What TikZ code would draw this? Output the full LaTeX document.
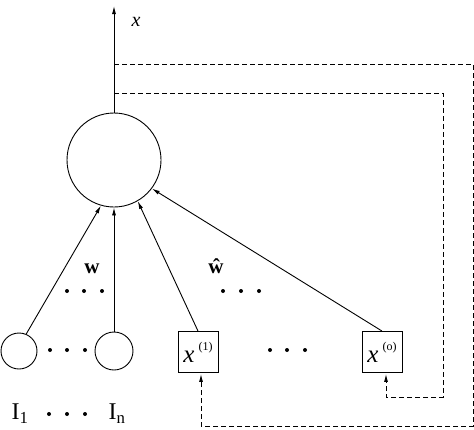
\documentclass[tikz,border=0pt]{standalone}
\usepackage{fontspec}
\setmainfont{Liberation Serif}
\usetikzlibrary{arrows.meta}
\begin{document}
\begin{tikzpicture}[x=1pt,y=-1pt,
  line width=0.9pt,
  arr/.style={-{Latex[length=8pt,width=4pt]}},
  dsh/.style={dash pattern=on 5pt off 3pt},
  unit/.style={circle,draw,inner sep=0pt},
  memo/.style={draw,minimum width=40pt,minimum height=41pt,inner sep=0pt,font=\fontsize{25}{27}\selectfont},
  dotm/.style={circle,fill,inner sep=0pt,minimum size=4pt},
  lbl/.style={inner sep=0pt}]
\useasboundingbox (0,0) rectangle (474,429);
% main unit
\node[unit,minimum size=94pt] (n) at (114,160) {};
% input units
\node[unit,minimum size=36pt] (i1) at (19,351) {};
\node[unit,minimum size=38pt] (in) at (114,351) {};
% context units
\node[memo] (b1) at (198,352) {\raisebox{-0.25ex}{\textit{x}}\,\raisebox{0.8ex}{\fontsize{12}{12}\selectfont(1)}};
\node[memo] (bo) at (382,352) {\raisebox{-0.25ex}{\textit{x}}\,\raisebox{0.8ex}{\fontsize{12}{12}\selectfont(o)}};
% output
\coordinate (top) at (114,6);
\draw[arr] (n.north) -- (top);
\node[lbl,font=\fontsize{20}{22}\selectfont] (xl) at (136,22) {\textit{x}};
% connections
\draw[arr] (i1.67) -- (n.254);
\draw[arr] (in.north) -- (n.south);
\draw[arr] (b1.north) -- (n.300);
\draw[arr] (bo.north) -- (n.323);
% recurrent copies
\coordinate (o1) at (114,64);
\coordinate (r1) at (473,426);
\coordinate (o2) at (114,93);
\coordinate (r2) at (443,397);
\draw[dsh,arr,shorten >=1pt] (o1) -| (r1) -| ([xshift=3pt]b1.south);
\draw[dsh,arr,shorten >=1pt] (o2) -| (r2) -| ([xshift=4pt]bo.south);
% weight labels
\node[lbl,font=\fontsize{21}{23}\selectfont\bfseries] (w) at (92,269) {w};
\node[lbl,font=\fontsize{21}{23}\selectfont\bfseries] (wh) at (216,266) {\^{w}};
% dots
\foreach \x in {67,84,102} \node[dotm] at (\x,291) {};
\foreach \x in {223,241,259} \node[dotm] at (\x,291) {};
\foreach \x in {50,67,85} \node[dotm] at (\x,350) {};
\foreach \x in {270,287,305} \node[dotm] at (\x,350) {};
\foreach \x in {49,67,85} \node[dotm] at (\x,414) {};
% input labels
\node[lbl,font=\fontsize{24}{26}\selectfont] (l1) at (20,414) {I\textsubscript{1}};
\node[lbl,font=\fontsize{24}{26}\selectfont] (ln) at (117,414) {I\textsubscript{n}};
\end{tikzpicture}
\end{document}
